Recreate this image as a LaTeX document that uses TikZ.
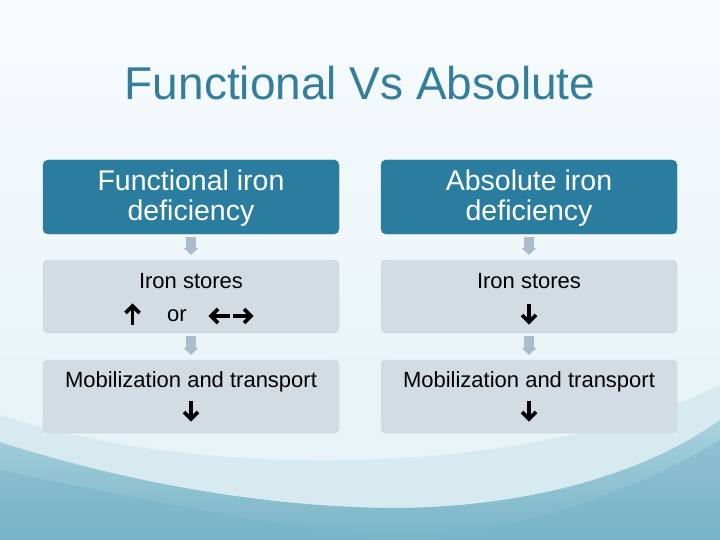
\documentclass[tikz,border=0pt]{standalone}
\usepackage{fontspec}
\setmainfont{Liberation Sans}
\usetikzlibrary{arrows.meta,calc}
\definecolor{titleblue}{HTML}{347E9C}
\definecolor{headfill}{HTML}{2B7DA0}
\definecolor{boxfill}{HTML}{D3DCE3}
\definecolor{boxline}{HTML}{C6D1DA}
\definecolor{arrowgray}{HTML}{A9BDCD}
\definecolor{bgtop}{HTML}{F7FBFD}
\definecolor{bgmid}{HTML}{E4F1F5}
\definecolor{wave1}{HTML}{D3E8EF}
\definecolor{wave2}{HTML}{AAD2DE}
\definecolor{wave3}{HTML}{78B4C7}
\tikzset{
  headbox/.style={draw=headfill, fill=headfill, rounded corners=5pt, minimum width=296pt, minimum height=74pt, inner sep=0pt},
  graybox/.style={draw=boxline, fill=boxfill, rounded corners=5pt, minimum width=296pt, minimum height=73pt, inner sep=0pt},
  headtxt/.style={text=white, align=center, font=\fontsize{28.5}{30}\selectfont, inner sep=0pt},
  bodytxt/.style={text=black, font=\fontsize{22}{25}\selectfont, inner sep=0pt, anchor=base},
  link/.style={draw=arrowgray, line width=10pt, shorten <=3pt, shorten >=5pt, -{Triangle[length=7pt,width=15pt]}},
  bigarrow/.pic={
    \draw[line width=3.6pt] (0,-9.5) -- (0,8);
    \draw[line width=3.8pt, miter limit=10] (-7,2) -- (0,9) -- (7,2);
  }
}
\begin{document}
\begin{tikzpicture}[x=1pt,y=-1pt]
\useasboundingbox (0,0) rectangle (720,540);
% background
\shade[top color=bgtop, bottom color=bgmid] (0,0) rectangle (720,540);
\fill[wave1, opacity=0.8] (0,415) .. controls (200,480) and (520,480) .. (720,385) -- (720,540) -- (0,540) -- cycle;
\shade[top color=wave2, bottom color=wave3] (0,442) .. controls (150,490) and (290,508) .. (400,508) .. controls (540,506) and (650,470) .. (720,420) -- (720,540) -- (0,540) -- cycle;
\fill[wave3, opacity=0.45] (0,470) .. controls (140,500) and (280,525) .. (380,540) -- (0,540) -- cycle;
\fill[wave3, opacity=0.45] (720,440) .. controls (640,490) and (520,530) .. (420,540) -- (720,540) -- cycle;

% title
\node[text=titleblue, font=\fontsize{46}{50}\selectfont, anchor=base] (title) at (360,100) {Functional Vs Absolute};

% boxes
\node[headbox] (h1) at (191,197) {};
\node[headbox] (h2) at (529,197) {};
\node[graybox] (m1) at (191,296.5) {};
\node[graybox] (m2) at (529,296.5) {};
\node[graybox] (b1) at (191,396.5) {};
\node[graybox] (b2) at (529,396.5) {};

% header texts
\node[headtxt] (h1t) at (191,198) {Functional iron\\deficiency};
\node[headtxt] (h2t) at (529,198) {Absolute iron\\deficiency};

% middle texts
\node[bodytxt] (m1t) at (191,288) {Iron stores};
\pic at (132.5,315) [rotate=180] {bigarrow};
\node[bodytxt] (m1or) at (177,321) {or};
\pic at (220,316) [rotate=-90] {bigarrow};
\pic at (242,316) [rotate=90] {bigarrow};
\node[bodytxt] (m2t) at (529,288) {Iron stores};
\pic at (529,313) {bigarrow};

% bottom texts
\node[bodytxt] (b1t) at (191,387) {Mobilization and transport};
\pic at (191,410) {bigarrow};
\node[bodytxt] (b2t) at (529,387) {Mobilization and transport};
\pic at (529,410) {bigarrow};

% connectors
\draw[link] (h1) -- (m1);
\draw[link] (m1) -- (b1);
\draw[link] (h2) -- (m2);
\draw[link] (m2) -- (b2);
\end{tikzpicture}
\end{document}
